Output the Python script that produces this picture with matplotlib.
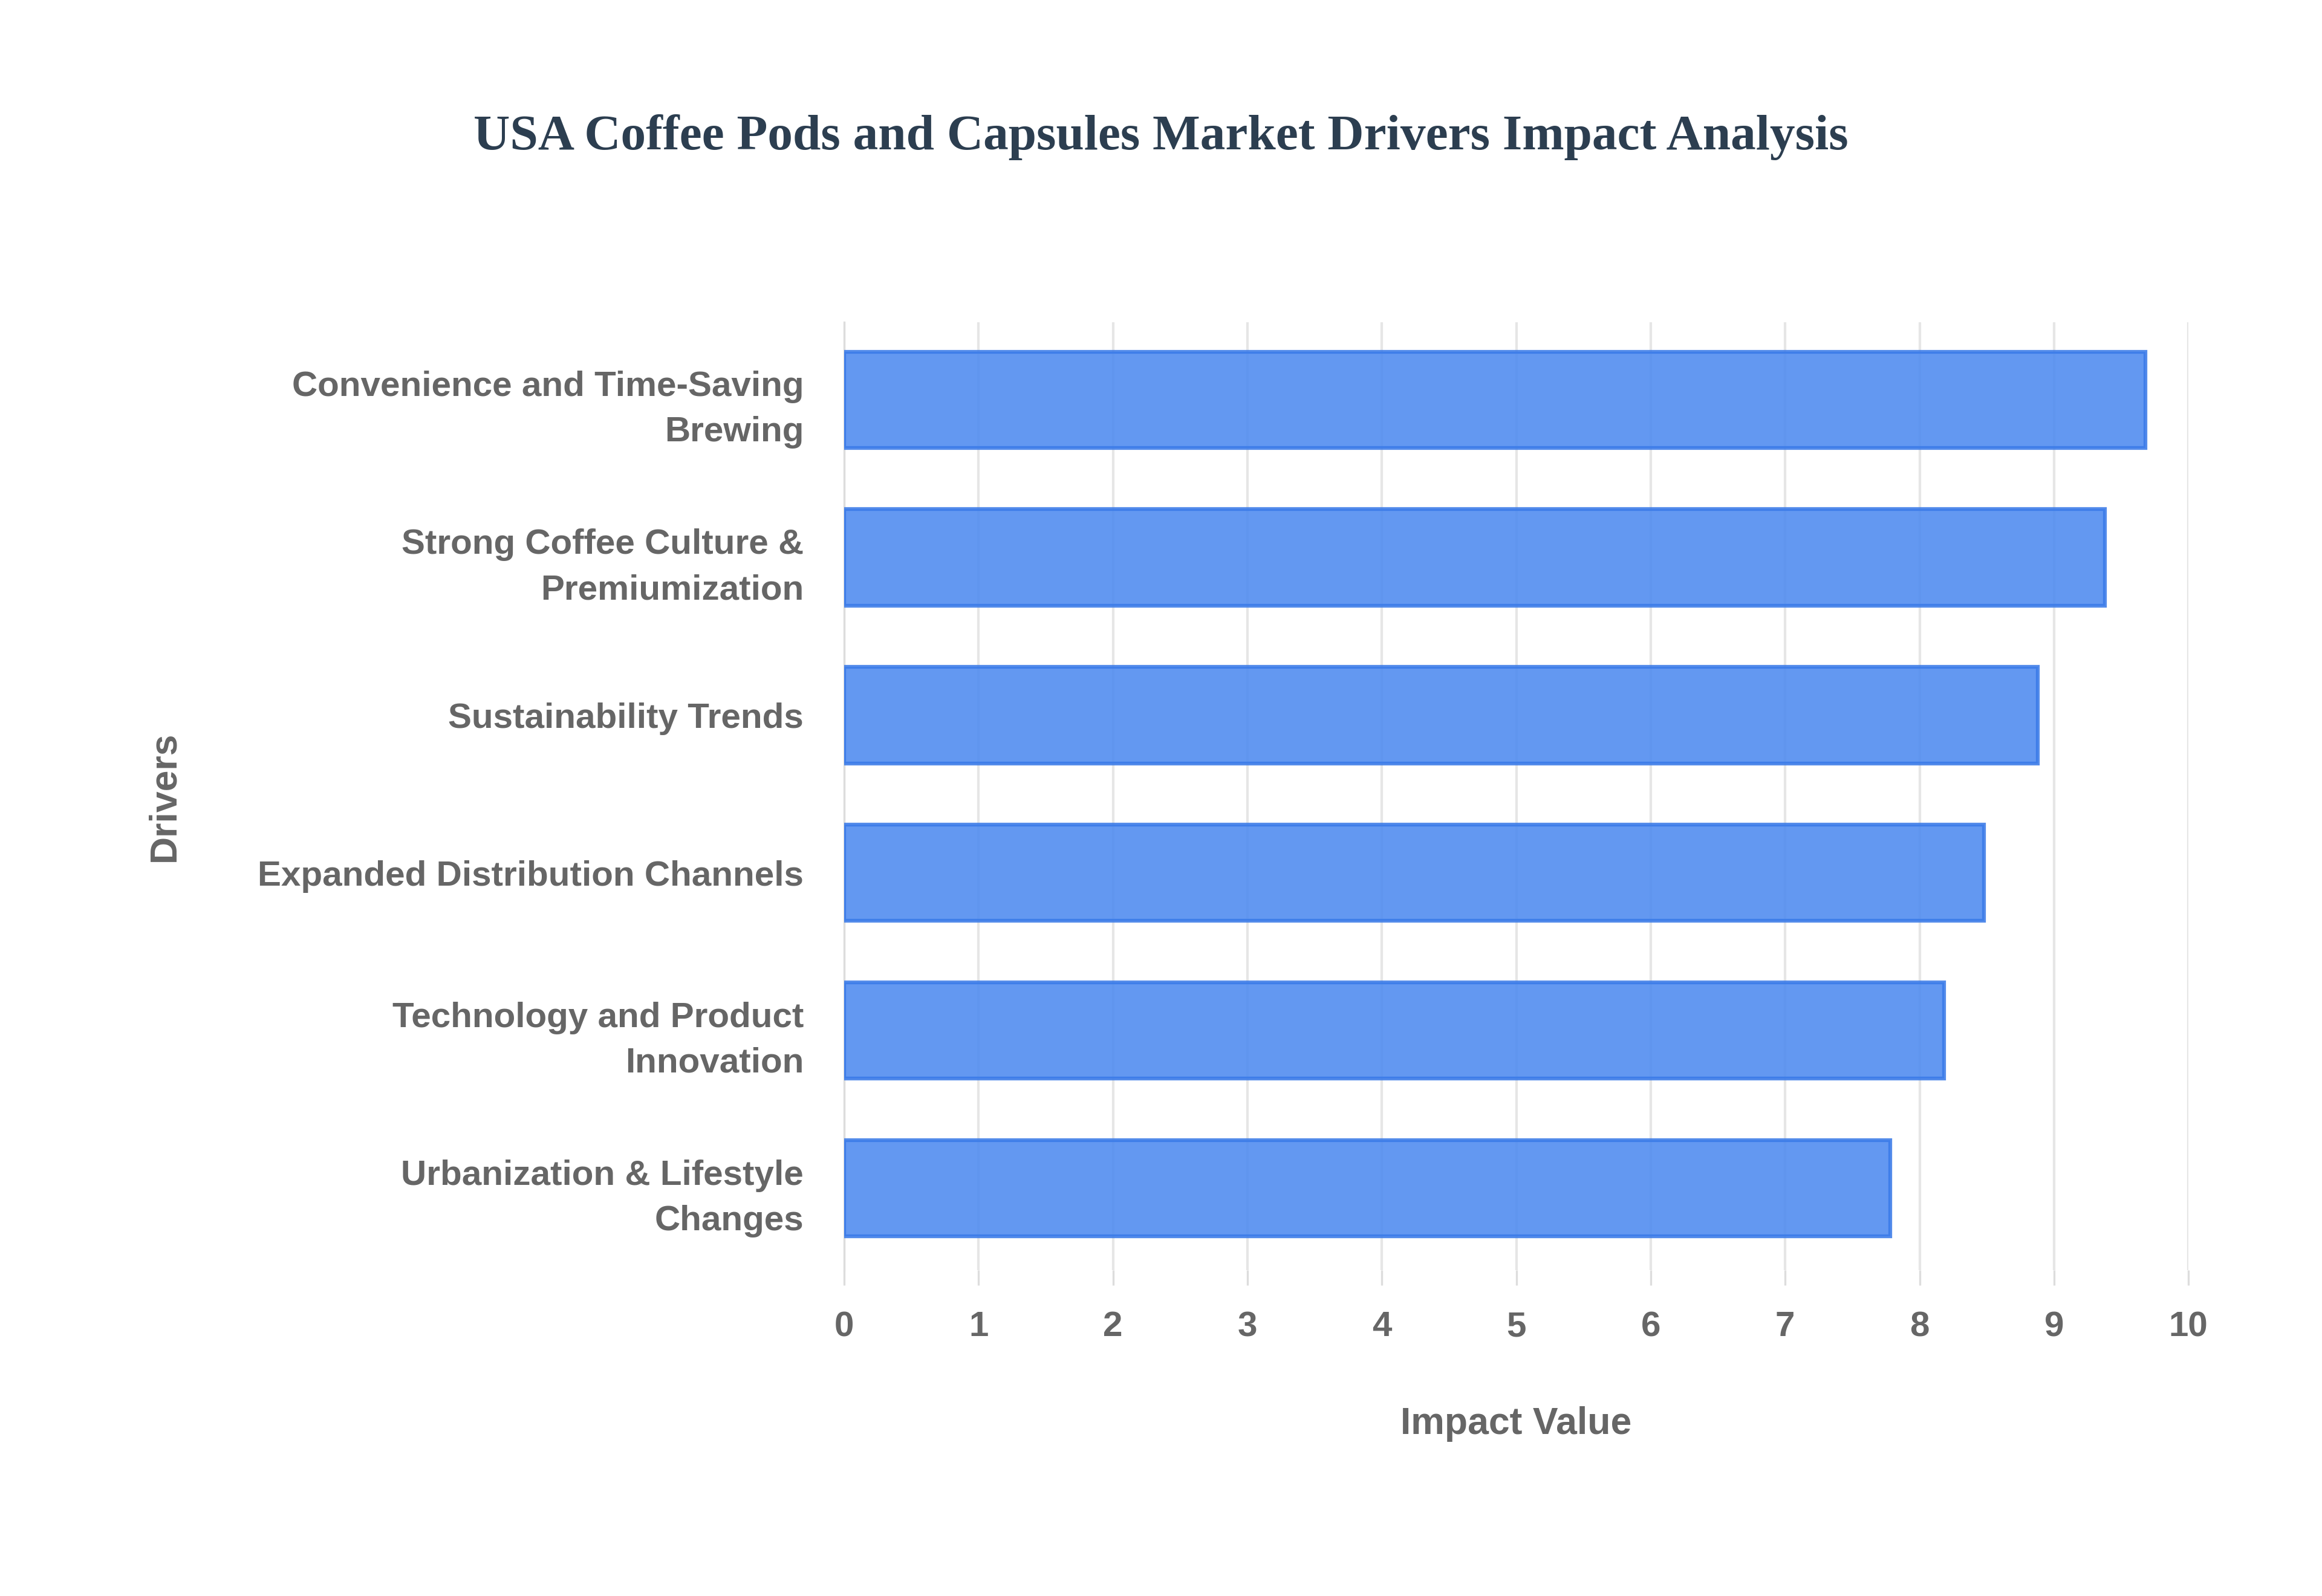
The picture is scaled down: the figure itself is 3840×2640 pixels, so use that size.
import matplotlib.pyplot as plt

drivers = ["Convenience and Time-Saving\nBrewing",
           "Strong Coffee Culture &\nPremiumization",
           "Sustainability Trends",
           "Expanded Distribution Channels",
           "Technology and Product\nInnovation",
           "Urbanization & Lifestyle\nChanges"]
impact = [9.68, 9.38, 8.88, 8.48, 8.18, 7.78]
ticks = list(range(0, 11))

fig = plt.figure(figsize=(12.8, 8.8), dpi=300)
ax = fig.add_axes([0.3635, 0.204, 0.579, 0.594])

pos = list(range(len(drivers)))[::-1]
ax.barh(pos, impact, height=0.61, color="#4d8af0", alpha=0.88,
        edgecolor="#3b7be8", linewidth=1.5, zorder=3)

ax.set_xlim(0, 10)
ax.set_ylim(-0.52, 5.49)
ax.set_xticks(ticks)
ax.set_yticks(pos)
ax.set_yticklabels(drivers, ha="right", linespacing=1.5)
for lab in ax.get_xticklabels() + ax.get_yticklabels():
    lab.set_fontweight("bold")
    lab.set_color("#666666")
    lab.set_fontsize(14)
    lab.set_fontfamily("Liberation Sans")
ax.tick_params(axis="y", length=0, pad=16)
ax.tick_params(axis="x", length=6, color="#dddddd", pad=10)
ax.grid(axis="x", color="#e6e6e6", linewidth=1, zorder=0)
for s in ["top", "right", "bottom"]:
    ax.spines[s].set_visible(False)
ax.spines["left"].set_color("#dddddd")

ax.set_xlabel("Impact Value", fontsize=15, fontweight="bold", color="#666666",
              family="Liberation Sans", labelpad=25)
ax.set_ylabel("Drivers", fontsize=15, fontweight="bold", color="#666666",
              family="Liberation Sans", labelpad=30)

fig.text(0.5, 0.914, "USA Coffee Pods and Capsules Market Drivers Impact Analysis",
         ha="center", va="center", fontsize=20, fontweight="bold",
         color="#2c3e50", family="Liberation Serif")

fig.savefig("out.png", dpi=300, facecolor="white")
